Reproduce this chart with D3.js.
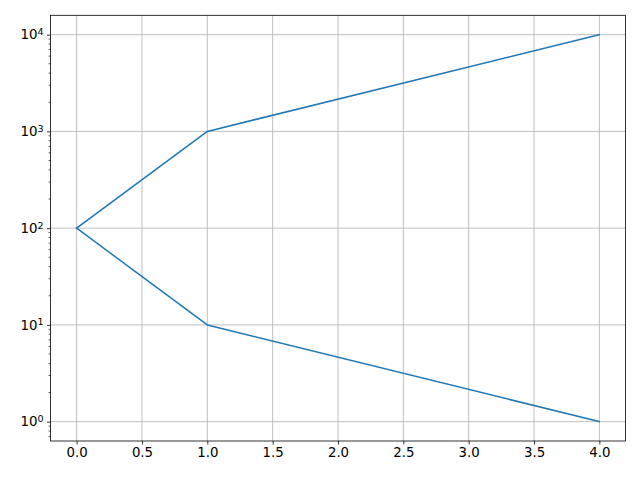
<!DOCTYPE html>
<html>
<head>
<meta charset="utf-8">
<script src="https://cdn.jsdelivr.net/npm/d3@7"></script>
<style>
  body { margin: 0; background: #fff; }
  text { font-family: "DejaVu Sans", sans-serif; font-size: 13.33px; fill: #000; }
</style>
</head>
<body>
<div id="chart"></div>
<script>
// data
const xValues = [0, 1, 4];
const upperValues = [100, 1000, 10000];
const lowerValues = [100, 10, 1];
const xTicks = [0, 0.5, 1, 1.5, 2, 2.5, 3, 3.5, 4];
const yExponents = [0, 1, 2, 3, 4];

const width = 640, height = 480;
const margin = { top: 15.3, right: 14.5, bottom: 39, left: 50.5 };

const svg = d3.select('#chart')
  .append('svg')
  .attr('width', width)
  .attr('height', height);

const x = d3.scaleLinear()
  .domain([-0.2, 4.2])
  .range([margin.left, width - margin.right]);

const y = d3.scaleLog()
  .domain([Math.pow(10, -0.2), Math.pow(10, 4.2)])
  .range([height - margin.bottom, margin.top]);

// grid //
const grid = svg.append('g')
  .attr('stroke', '#b0b0b0')
  .attr('stroke-width', 0.8);

grid.selectAll('.vgrid')
  .data(xTicks)
  .enter()
  .append('line')
  .attr('x1', d => x(d)).attr('x2', d => x(d))
  .attr('y1', margin.top).attr('y2', height - margin.bottom);

grid.selectAll('.hgrid')
  .data(yExponents)
  .enter()
  .append('line')
  .attr('x1', margin.left).attr('x2', width - margin.right)
  .attr('y1', d => y(Math.pow(10, d))).attr('y2', d => y(Math.pow(10, d)));

// lines //
const line = d3.line()
  .x(d => x(d[0]))
  .y(d => y(d[1]));

[upperValues, lowerValues].forEach(series => {
  svg.append('path')
    .datum(xValues.map((v, i) => [v, series[i]]))
    .attr('d', line)
    .attr('fill', 'none')
    .attr('stroke', '#1f77b4')
    .attr('stroke-width', 1.5)
    .attr('stroke-linecap', 'square')
    .attr('stroke-linejoin', 'round');
});

// frame //
svg.append('rect')
  .attr('x', margin.left)
  .attr('y', margin.top)
  .attr('width', width - margin.left - margin.right)
  .attr('height', height - margin.top - margin.bottom)
  .attr('fill', 'none')
  .attr('stroke', '#000')
  .attr('stroke-width', 0.8);

// x axis
const xAxis = svg.append('g')
  .attr('transform', `translate(0,${height - margin.bottom})`)
  .call(d3.axisBottom(x).tickValues(xTicks).tickSize(3.5).tickPadding(3.5).tickFormat(d3.format('.1f')));
xAxis.select('.domain').remove();
xAxis.selectAll('.tick line').attr('stroke-width', 0.8);
xAxis.selectAll('text').attr('font-size', '13.33px').attr('font-family', '"DejaVu Sans", sans-serif');

// y axis
const yAxis = svg.append('g')
  .attr('transform', `translate(${margin.left},0)`)
  .call(d3.axisLeft(y).tickValues(yExponents.map(e => Math.pow(10, e))).tickSize(3.5).tickPadding(3.5).tickFormat(''));
yAxis.select('.domain').remove();
yAxis.selectAll('.tick line').attr('stroke-width', 0.8);

yAxis.selectAll('.tick')
  .data(yExponents)
  .append('text')
  .attr('x', -7)
  .attr('dy', '0.32em')
  .attr('text-anchor', 'end')
  .attr('font-size', '13.33px')
  .attr('font-family', '"DejaVu Sans", sans-serif')
  .attr('fill', '#000')
  .each(function(d) {
    const t = d3.select(this);
    t.append('tspan').text('10');
    t.append('tspan').attr('dy', '-0.45em').attr('font-size', '9.5px').text(d);
  });

// minor ticks on log axis
const minor = [];
for (let e = -1; e <= 4; e++) {
  for (let m = 2; m <= 9; m++) {
    const v = m * Math.pow(10, e);
    if (v >= y.domain()[0] && v <= y.domain()[1]) minor.push(v);
  }
}
svg.append('g')
  .selectAll('line')
  .data(minor)
  .enter()
  .append('line')
  .attr('x1', margin.left - 2).attr('x2', margin.left)
  .attr('y1', d => y(d)).attr('y2', d => y(d))
  .attr('stroke', '#000')
  .attr('stroke-width', 0.6);
</script>
</body>
</html>
